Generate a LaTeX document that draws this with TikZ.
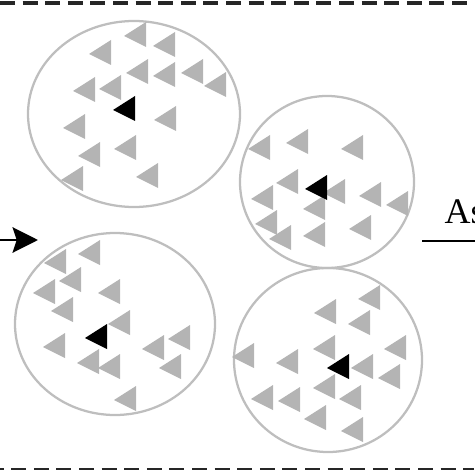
\documentclass[tikz,border=0pt]{standalone}
\usepackage{fontspec}
\setmainfont{Liberation Serif}
\usetikzlibrary{arrows.meta}

\definecolor{ringgray}{RGB}{190,190,190}
\definecolor{trigray}{RGB}{180,180,180}

\tikzset{every picture/.style={line width=0.75pt}}
\tikzset{
  ring/.style={draw=ringgray,line width=1.7pt},
  trimark/.style={fill=trigray},
  seedmark/.style={fill=black},
  bandline/.style={draw=black!85,dash pattern=on 11.25pt off 5.7pt},
}
% left pointing triangle centred at #2
\newcommand{\tmark}[2]{\fill[#1] #2 ++(-14,1) -- ++(22,-14) -- ++(0,25) -- cycle;}

\begin{document}
\begin{tikzpicture}[x=0.75pt,y=0.75pt,yscale=-1,xscale=1]
	\useasboundingbox (0,0) rectangle (474,474);

	%Dashed bands
	\draw [bandline,line width=3.2pt] (0,3) -- (474,3) ;
	\draw [bandline,line width=2pt,dash phase=8.5pt] (0,469) -- (474,469) ;

	%Shape: Circle (top left)
	\draw [ring] (134,114) ellipse (106 and 93) ;
	\foreach \p in {(138,35),(167,45),(103,53),(140,72),(167,75),(195,72),(218,85),(87,90),(113,88),(77,127),(168,119),(92,155),(128,148),(75,179),(150,176)}
		{\tmark{trimark}{\p}}
	\tmark{seedmark}{(127,109)}

	%Shape: Circle (top right)
	\draw [ring] (327,182) ellipse (87 and 86) ;
	\foreach \p in {(262,148),(300,142),(355,148),(290,182),(337,192),(373,195),(400,204),(265,198),(317,208),(269,223),(283,238),(317,235),(363,228)}
		{\tmark{trimark}{\p}}
	\tmark{seedmark}{(319,188)}

	%Shape: Circle (bottom left)
	\draw [ring] (115,324) ellipse (100 and 91) ;
	\foreach \p in {(58,262),(92,253),(73,280),(47,292),(112,292),(65,310),(122,323),(57,346),(91,362),(112,367),(156,348),(182,338),(173,367),(128,399)}
		{\tmark{trimark}{\p}}
	\tmark{seedmark}{(99,337)}

	%Shape: Circle (bottom right)
	\draw [ring] (328,360) ellipse (94 and 92) ;
	\foreach \p in {(372,298),(328,312),(362,323),(246,356),(290,362),(327,348),(365,367),(398,348),(392,377),(327,387),(265,398),(292,400),(353,398),(318,418),(355,430)}
		{\tmark{trimark}{\p}}
	\tmark{seedmark}{(341,367)}

	%Straight Lines
	\coordinate (inL) at (0,240) ;
	\coordinate (inR) at (38,240) ;
	\draw [line width=2pt,-{Stealth[length=19pt,width=19pt,inset=3pt]}] (inL) -- (inR) ;
	\coordinate (outL) at (422,241) ;
	\coordinate (outR) at (480,241) ;
	\draw [line width=1.8pt] (outL) -- (outR) ;

	% Text Node
	\node [anchor=base west,inner sep=0pt,font=\fontsize{27}{32}\selectfont] (lbl) at (444,223) {As};

\end{tikzpicture}
\end{document}
